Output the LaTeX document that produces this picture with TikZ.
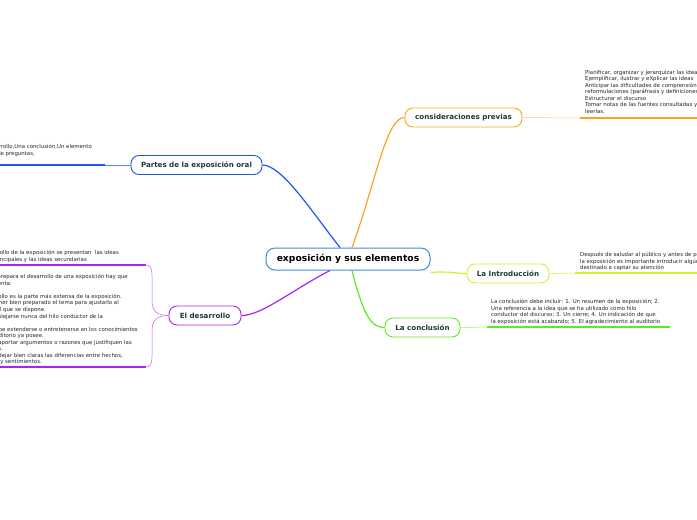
\documentclass[tikz,border=0pt]{standalone}
\usepackage{fontspec}
\setmainfont{DejaVu Sans}
\definecolor{cblue}{HTML}{3A8FD8}
\definecolor{corange}{HTML}{FFA21F}
\definecolor{cpblue}{HTML}{1F55F5}
\definecolor{cpurple}{HTML}{A526F2}
\definecolor{cyellow}{HTML}{D2F024}
\definecolor{cgreen}{HTML}{5BEA26}
\definecolor{ntext}{HTML}{173C38}
\definecolor{ltext}{HTML}{262626}
\tikzset{
  mainnode/.style={draw=cblue, line width=1pt, fill=white, rounded corners=9pt,
    minimum width=164pt, minimum height=22pt, inner sep=0pt,
    font=\fontsize{9.2}{10}\selectfont\bfseries, text=black},
  branch/.style={draw=#1, line width=0.9pt, fill=white, rounded corners=8pt,
    minimum height=19pt, inner sep=0pt,
    font=\fontsize{7.1}{8}\selectfont\bfseries, text=ntext},
  leaf/.style={inner sep=0pt, align=left, text=ltext,
    font=\fontsize{5.4}{6.5}\selectfont},
  lline/.style={inner sep=0pt, text=ltext, font=\fontsize{5.4}{6.5}\selectfont},
  conn/.style={draw=#1, line width=1.2pt},
  thin/.style={draw=#1, line width=0.5pt},
  uline/.style={draw=#1, line width=1.2pt},
}
\begin{document}
\begin{tikzpicture}[x=1pt,y=-1pt]
\useasboundingbox (0,0) rectangle (697,520);
\clip (0,0) rectangle (697,520);
\fill[white] (0,0) rectangle (697,520);

% nodes
\node[mainnode] (c) at (348,259) {exposición y sus elementos};
\node[branch=corange, minimum width=117pt] (cp) at (463.5,117.5) {consideraciones previas};
\node[branch=cpblue, minimum width=131pt] (pe) at (196.5,165) {Partes de la exposición oral};
\node[branch=cpurple, minimum width=72pt] (ed) at (205,315.5) {El desarrollo};
\node[branch=cyellow, minimum width=82pt] (li) at (508,273.5) {La Introducción};
\node[branch=cgreen, minimum width=75pt] (lc) at (422.5,327.5) {La conclusión};

% central connectors
\draw[conn=corange] ([xshift=4pt]c.north) .. controls (375,185) and (386,117) .. (cp.west);
\draw[conn=cpblue] ([xshift=-8pt]c.north) .. controls (312,212) and (282,165) .. (pe.east);
\draw[conn=cpurple] ([xshift=-18pt]c.south) .. controls (292,290) and (262,315.5) .. (ed.east);
\draw[conn=cyellow] ([yshift=-2pt]c.south east) .. controls (450,271) and (455,273.5) .. (li.west);
\draw[conn=cgreen] ([xshift=4pt]c.south) .. controls (364,318) and (372,327.5) .. (lc.west);

% consideraciones previas
\coordinate (cpa) at (580,118);
\coordinate (cpb) at (697,118);
\draw[thin=corange!60] (cp.east) -- (cpa);
\draw[uline=corange] (cpa) -- (cpb);
\node[leaf, anchor=north west] (cpt) at (585,70) {Planificar, organizar y jerarquizar las ideas\\
Ejemplificar, ilustrar y eXplicar las ideas\\
Anticipar las dificultades de comprensión\\
reformulaciones (paráfrasis y definiciones)\\
Estructurar el discurso\\
Tomar notas de las fuentes consultadas y\\
leerlas.};

% partes
\coordinate (pea) at (105,165);
\coordinate (peb) at (0,165);
\draw[thin=cpblue!70] (pe.west) -- (pea);
\draw[uline=cpblue] (pea) -- (peb);
\node[lline, anchor=base east] (pt1) at (92,148) {Un desarrollo,Una conclusión,Un elemento};
\node[lline, anchor=base east] (pt2) at (35,155) {de preguntas,};

% introduccion
\coordinate (lia) at (575,273);
\coordinate (lib) at (697,273);
\draw[thin=cyellow] (li.east) -- (lia);
\draw[uline=cyellow] (lia) -- (lib);
\node[leaf, anchor=north west] (lit) at (580,252) {Después de saludar al público y antes de presentar\\
la exposición es importante introducir algún elemento\\
destinado a captar su atención};

% conclusion
\coordinate (lca) at (487,327);
\coordinate (lcb) at (670,327);
\draw[thin=cgreen!70] (lc.east) -- (lca);
\draw[uline=cgreen] (lca) -- (lcb);
\node[leaf, anchor=north west] (lct) at (491,299) {La conclusión debe incluir: 1. Un resumen de la exposición; 2.\\
Una referencia a la idea que se ha utilizado como hilo\\
conductor del discurso; 3. Un cierre; 4. Un indicación de que\\
la exposición está acabando; 5. El agradecimiento al auditorio};

% desarrollo
\coordinate (dta) at (146,265);
\coordinate (dtb) at (0,265);
\coordinate (dba) at (146,367);
\coordinate (dbb) at (0,367);
\draw[uline=cpurple] (dta) -- (dtb);
\draw[uline=cpurple] (dba) -- (dbb);
\draw[thin=cpurple!70] (ed.west) .. controls (158,315.5) and (152,312) .. (152,300)
  -- (152,276) .. controls (152,268) and (150,265) .. (dta);
\draw[thin=cpurple!70] (ed.west) .. controls (158,315.5) and (152,319) .. (152,331)
  -- (152,356) .. controls (152,364) and (150,367) .. (dba);
\node[lline, anchor=base east] (d1) at (119,254) {En el desarrollo de la exposición se presentan \ las ideas};
\node[lline, anchor=base east] (d2) at (87,261) {principales y las ideas secundarias};
\node[lline, anchor=base east] (d3) at (128,278) {Cuando se prepara el desarrollo de una exposición hay que};
\node[lline, anchor=base east] (d4) at (12,285) {tener en cuenta:};
\node[lline, anchor=base east] (d5) at (122,298) {El desarrollo es la parte más extensa de la exposición.};
\node[lline, anchor=base east] (d6) at (119,304) {Se debe tener bien preparado el tema para ajustarlo al};
\node[lline, anchor=base east] (d7) at (46,311) {tiempo del que se dispone.};
\node[lline, anchor=base east] (d8) at (103,318) {Es necesario no alejarse nunca del hilo conductor de la};
\node[lline, anchor=base east] (d9) at (138,331) {No se debe extenderse o entretenerse en los conocimientos};
\node[lline, anchor=base east] (d10) at (44,337) {que el auditorio ya posee.};
\node[lline, anchor=base east] (d11) at (132,344) {Es importante aportar argumentos o razones que justifiquen las};
\node[lline, anchor=base east] (d12) at (3,350) {opiniones.};
\node[lline, anchor=base east] (d13) at (123,357) {Se debe dejar bien claras las diferencias entre hechos,};
\node[lline, anchor=base east] (d14) at (42,363) {opiniones y sentimientos.};
\end{tikzpicture}
\end{document}
